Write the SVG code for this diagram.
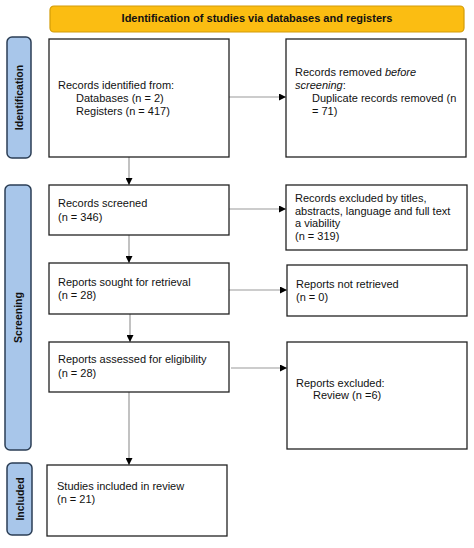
<svg xmlns="http://www.w3.org/2000/svg" width="474" height="548" viewBox="0 0 474 548">
<style>
text{font-family:"Liberation Sans",Arial,sans-serif;font-size:11px;fill:#111}
.box{fill:#fff;stroke:#222;stroke-width:1.3}
.side{fill:#A8C6EA;stroke:#2B3E55;stroke-width:1.5}
.sl{font-weight:bold;font-size:10.5px;text-anchor:middle}
.con{stroke:#999;stroke-width:1.2;fill:none;marker-end:url(#ah)}
</style>
<defs>
<marker id="ah" viewBox="0 0 10 10" refX="10" refY="5" markerWidth="7" markerHeight="7" markerUnits="userSpaceOnUse" orient="auto">
<path d="M0,0 L10,5 L0,10 z" fill="#000"/>
</marker>
</defs>
<rect width="474" height="548" fill="#fff"/>
<g id="banner">
<rect x="50" y="6" width="414" height="26" rx="4" fill="#FBBD12" stroke="#D39C08" stroke-width="1.2"/>
<text x="257" y="22" text-anchor="middle" font-weight="bold">Identification of studies via databases and registers</text>
</g>
<g id="label-identification">
<rect class="side" x="7" y="37" width="24" height="121" rx="5"/>
<text class="sl" transform="translate(23,97.5) rotate(-90)">Identification</text>
</g>
<g id="label-screening">
<rect class="side" x="5" y="185" width="26" height="265" rx="5"/>
<text class="sl" transform="translate(22,317.5) rotate(-90)">Screening</text>
</g>
<g id="label-included">
<rect class="side" x="7" y="463" width="25" height="72" rx="5"/>
<text class="sl" transform="translate(23.5,499) rotate(-90)">Included</text>
</g>
<g id="connectors">
<line class="con" x1="229" y1="97" x2="286" y2="97"/>
<line class="con" x1="129" y1="157" x2="129" y2="185"/>
<line class="con" x1="229" y1="209" x2="286" y2="209"/>
<line class="con" x1="129" y1="235" x2="129" y2="263"/>
<line class="con" x1="229" y1="290" x2="287" y2="290"/>
<line class="con" x1="130" y1="314" x2="130" y2="342"/>
<line class="con" x1="231" y1="368" x2="287" y2="368"/>
<line class="con" x1="129" y1="392" x2="129" y2="465"/>
</g>
<g id="records-identified">
<rect class="box" x="49" y="39" width="180" height="118"/>
<text x="58" y="89">Records identified from:</text>
<text x="76" y="102">Databases (n = 2)</text>
<text x="76" y="115">Registers (n = 417)</text>
</g>
<g id="records-removed">
<rect class="box" x="286" y="39" width="180" height="118"/>
<text x="295" y="76">Records removed <tspan font-style="italic">before</tspan></text>
<text x="295" y="89"><tspan font-style="italic">screening</tspan>:</text>
<text x="312" y="102">Duplicate records removed (n</text>
<text x="312" y="115">= 71)</text>
</g>
<g id="records-screened">
<rect class="box" x="49" y="185" width="180" height="50"/>
<text x="58" y="207">Records screened</text>
<text x="58" y="221">(n = 346)</text>
</g>
<g id="records-excluded">
<rect class="box" x="286" y="185" width="181" height="65"/>
<text x="295" y="202">Records excluded by titles,</text>
<text x="295" y="215">abstracts, language and full text</text>
<text x="295" y="227">a viability</text>
<text x="295" y="240">(n = 319)</text>
</g>
<g id="reports-sought">
<rect class="box" x="49" y="263" width="180" height="51"/>
<text x="58" y="286">Reports sought for retrieval</text>
<text x="58" y="299">(n = 28)</text>
</g>
<g id="reports-not-retrieved">
<rect class="box" x="287" y="265" width="180" height="51"/>
<text x="296" y="288">Reports not retrieved</text>
<text x="296" y="301">(n = 0)</text>
</g>
<g id="reports-assessed">
<rect class="box" x="49" y="342" width="180" height="50"/>
<text x="58" y="363">Reports assessed for eligibility</text>
<text x="58" y="377">(n = 28)</text>
</g>
<g id="reports-excluded">
<rect class="box" x="287" y="342" width="180" height="107"/>
<text x="296" y="387">Reports excluded:</text>
<text x="313" y="399">Review (n =6)</text>
</g>
<g id="studies-included">
<rect class="box" x="47" y="465" width="180" height="71"/>
<text x="57" y="490">Studies included in review</text>
<text x="57" y="503">(n = 21)</text>
</g>
</svg>
